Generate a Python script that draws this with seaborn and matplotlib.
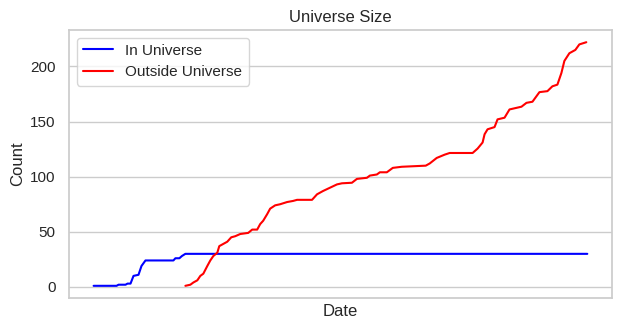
import matplotlib
matplotlib.use("Agg")
import matplotlib.pyplot as plt
import seaborn as sns
import pandas as pd

# Day offsets (x) and cumulative counts (y)
in_days = [0, 23, 25, 32, 34, 37, 40, 45, 48, 52, 80, 82, 86, 88.5, 92, 495]
in_counts = [1, 1, 2, 2, 3, 3, 10, 11, 19, 24, 24, 26, 26, 28, 30, 30]

out_days = [92, 97, 100, 104, 107, 110, 114, 117, 120, 124, 126, 130, 134, 138, 142,
            147, 155, 159, 164, 167, 170, 174, 177, 182, 187, 194, 200, 204, 219,
            224, 230, 237, 244, 249, 259, 264, 274, 277, 284, 287, 294, 300, 309,
            333, 337, 344, 352, 357, 380, 385, 390, 392, 395, 402, 405, 412, 417,
            429, 434, 440, 447, 455, 460, 465, 469, 472, 477, 483, 487, 494]
out_counts = [1, 2, 4, 6, 10, 12, 19, 24, 28, 31, 37, 39, 41, 45, 46,
              48, 49, 52, 52, 57, 60, 66, 71, 74, 75, 77, 78, 79, 79,
              84, 87, 90, 93, 94, 94.5, 98, 99, 101, 102, 104, 104, 108, 109,
              110, 112, 117, 120, 121.5, 121.5, 125.5, 131, 138.5, 143, 145, 152, 153.5, 161,
              163.5, 167, 168, 176.7, 177.6, 182, 183.5, 194, 205, 212, 215, 220, 222]

labels = ["In Universe", "Outside Universe"]
colors = ["blue", "red"]

sns.set_theme(style="whitegrid")
plt.rcParams["font.family"] = ["Liberation Sans", "DejaVu Sans"]

df = pd.concat([
    pd.DataFrame({"Date": in_days, "Count": in_counts, "Series": labels[0]}),
    pd.DataFrame({"Date": out_days, "Count": out_counts, "Series": labels[1]}),
])

fig, ax = plt.subplots(figsize=(6.21, 3.3), dpi=100)
sns.lineplot(data=df, x="Date", y="Count", hue="Series",
             palette=dict(zip(labels, colors)), ax=ax, linewidth=1.5,
             estimator=None, sort=False)
ax.set_xticks([])
ax.set_xlabel("Date")
ax.set_ylabel("Count")
ax.set_title("Universe Size")
ax.set_yticks([0, 50, 100, 150, 200])
handles, lbls = ax.get_legend_handles_labels()
ax.legend(handles=handles, labels=lbls, loc="upper left")
fig.subplots_adjust(left=0.111, right=0.9855, top=0.909, bottom=0.097)
fig.savefig("out.png", dpi=100)
